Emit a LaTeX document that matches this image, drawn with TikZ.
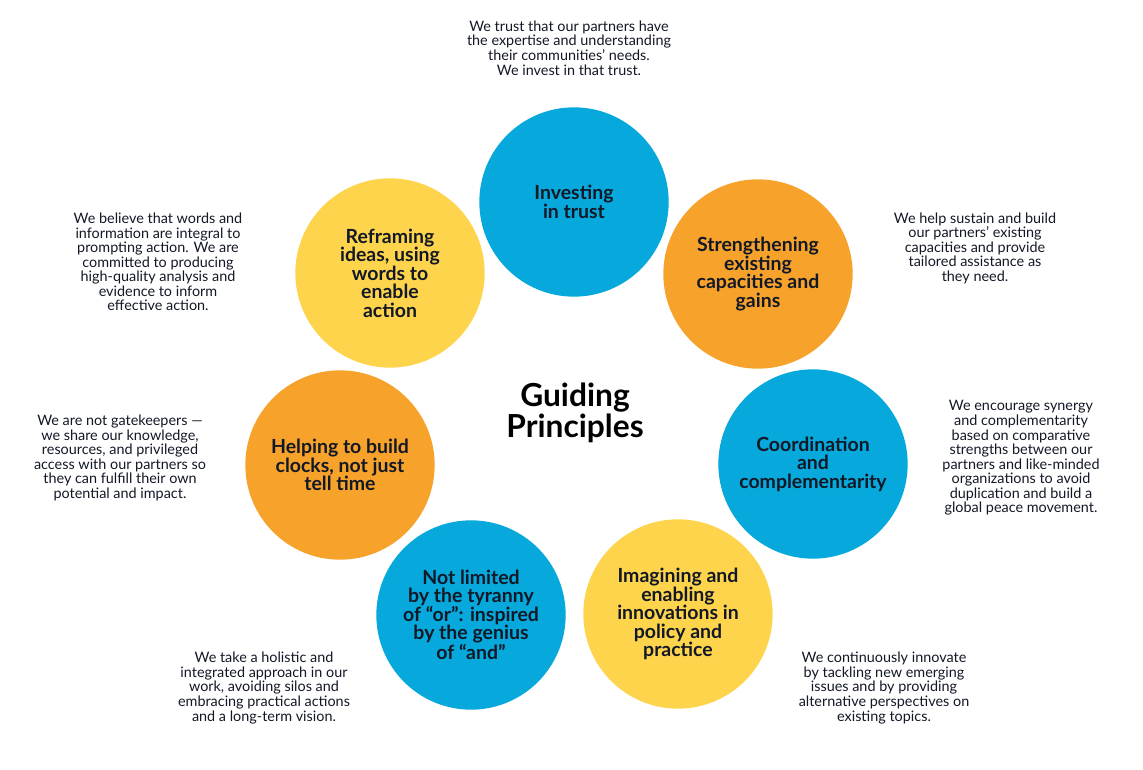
\documentclass[tikz,border=0pt]{standalone}
\usepackage{fontspec}
\setmainfont{Lato}
\definecolor{pblue}{HTML}{07A8DB}
\definecolor{pyellow}{HTML}{FDD44B}
\definecolor{porange}{HTML}{F7A22B}
\definecolor{pink}{HTML}{121826}
\tikzset{
  principle/.style={circle, minimum size=142pt, inner sep=0pt, align=center,
    text=pink, font=\bfseries\fontsize{14.6}{13.9}\selectfont},
  note/.style={align=center, inner sep=0pt, text=pink,
    font=\fontsize{10.8}{10.9}\selectfont},
}
\begin{document}
\begin{tikzpicture}[x=0.75pt, y=-0.75pt]
    \useasboundingbox[fill=white] (0,0) rectangle (1143,770);

    % title
    \node[align=center, font=\bfseries\fontsize{23.8}{23.3}\selectfont] (title) at (575,413) {Guiding\\Principles};

    % circles
    \node[principle, fill=pblue] (trust) at (574,202) {Investing\\in trust};
    \node[principle, fill=porange] (strength) at (758,274) {Strengthening\\existing\\capacities and\\gains};
    \node[principle, fill=pblue] (coord) at (813,464) {Coordination\\and\\complementarity};
    \node[principle, fill=pyellow] (imagine) at (678,614) {Imagining and\\enabling\\innovations in\\policy and\\practice};
    \node[principle, fill=pblue] (limited) at (471,615) {Not limited\\by the tyranny\\of “or”: inspired\\by the genius\\of “and”};
    \node[principle, fill=porange] (clocks) at (340,465) {Helping to build\\clocks, not just\\tell time};
    \node[principle, fill=pyellow] (reframe) at (390,273) {Reframing\\ideas, using\\words to\\enable\\action};

    % notes
    \node[note] (trustnote) at (569,48) {We trust that our partners have\\the expertise and understanding\\their communities’ needs.\\We invest in that trust.};
    \node[note] (strengthnote) at (975,248) {We help sustain and build\\our partners’ existing\\capacities and provide\\tailored assistance as\\they need.};
    \node[note] (coordnote) at (1021,458) {We encourage synergy\\and complementarity\\based on comparative\\strengths between our\\partners and like-minded\\organizations to avoid\\duplication and build a\\global peace movement.};
    \node[note] (imaginenote) at (884,688) {We continuously innovate\\by tackling new emerging\\issues and by providing\\alternative perspectives on\\existing topics.};
    \node[note] (limitednote) at (264,688) {We take a holistic and\\integrated approach in our\\work, avoiding silos and\\embracing practical actions\\and a long-term vision.};
    \node[note] (clocksnote) at (120,458) {We are not gatekeepers —\\we share our knowledge,\\resources, and privileged\\access with our partners so\\they can fulfill their own\\potential and impact.};
    \node[note] (reframenote) at (158,262) {We believe that words and\\information are integral to\\prompting action.  We are\\committed to producing\\high-quality analysis and\\evidence to inform\\effective action.};
\end{tikzpicture}
\end{document}
